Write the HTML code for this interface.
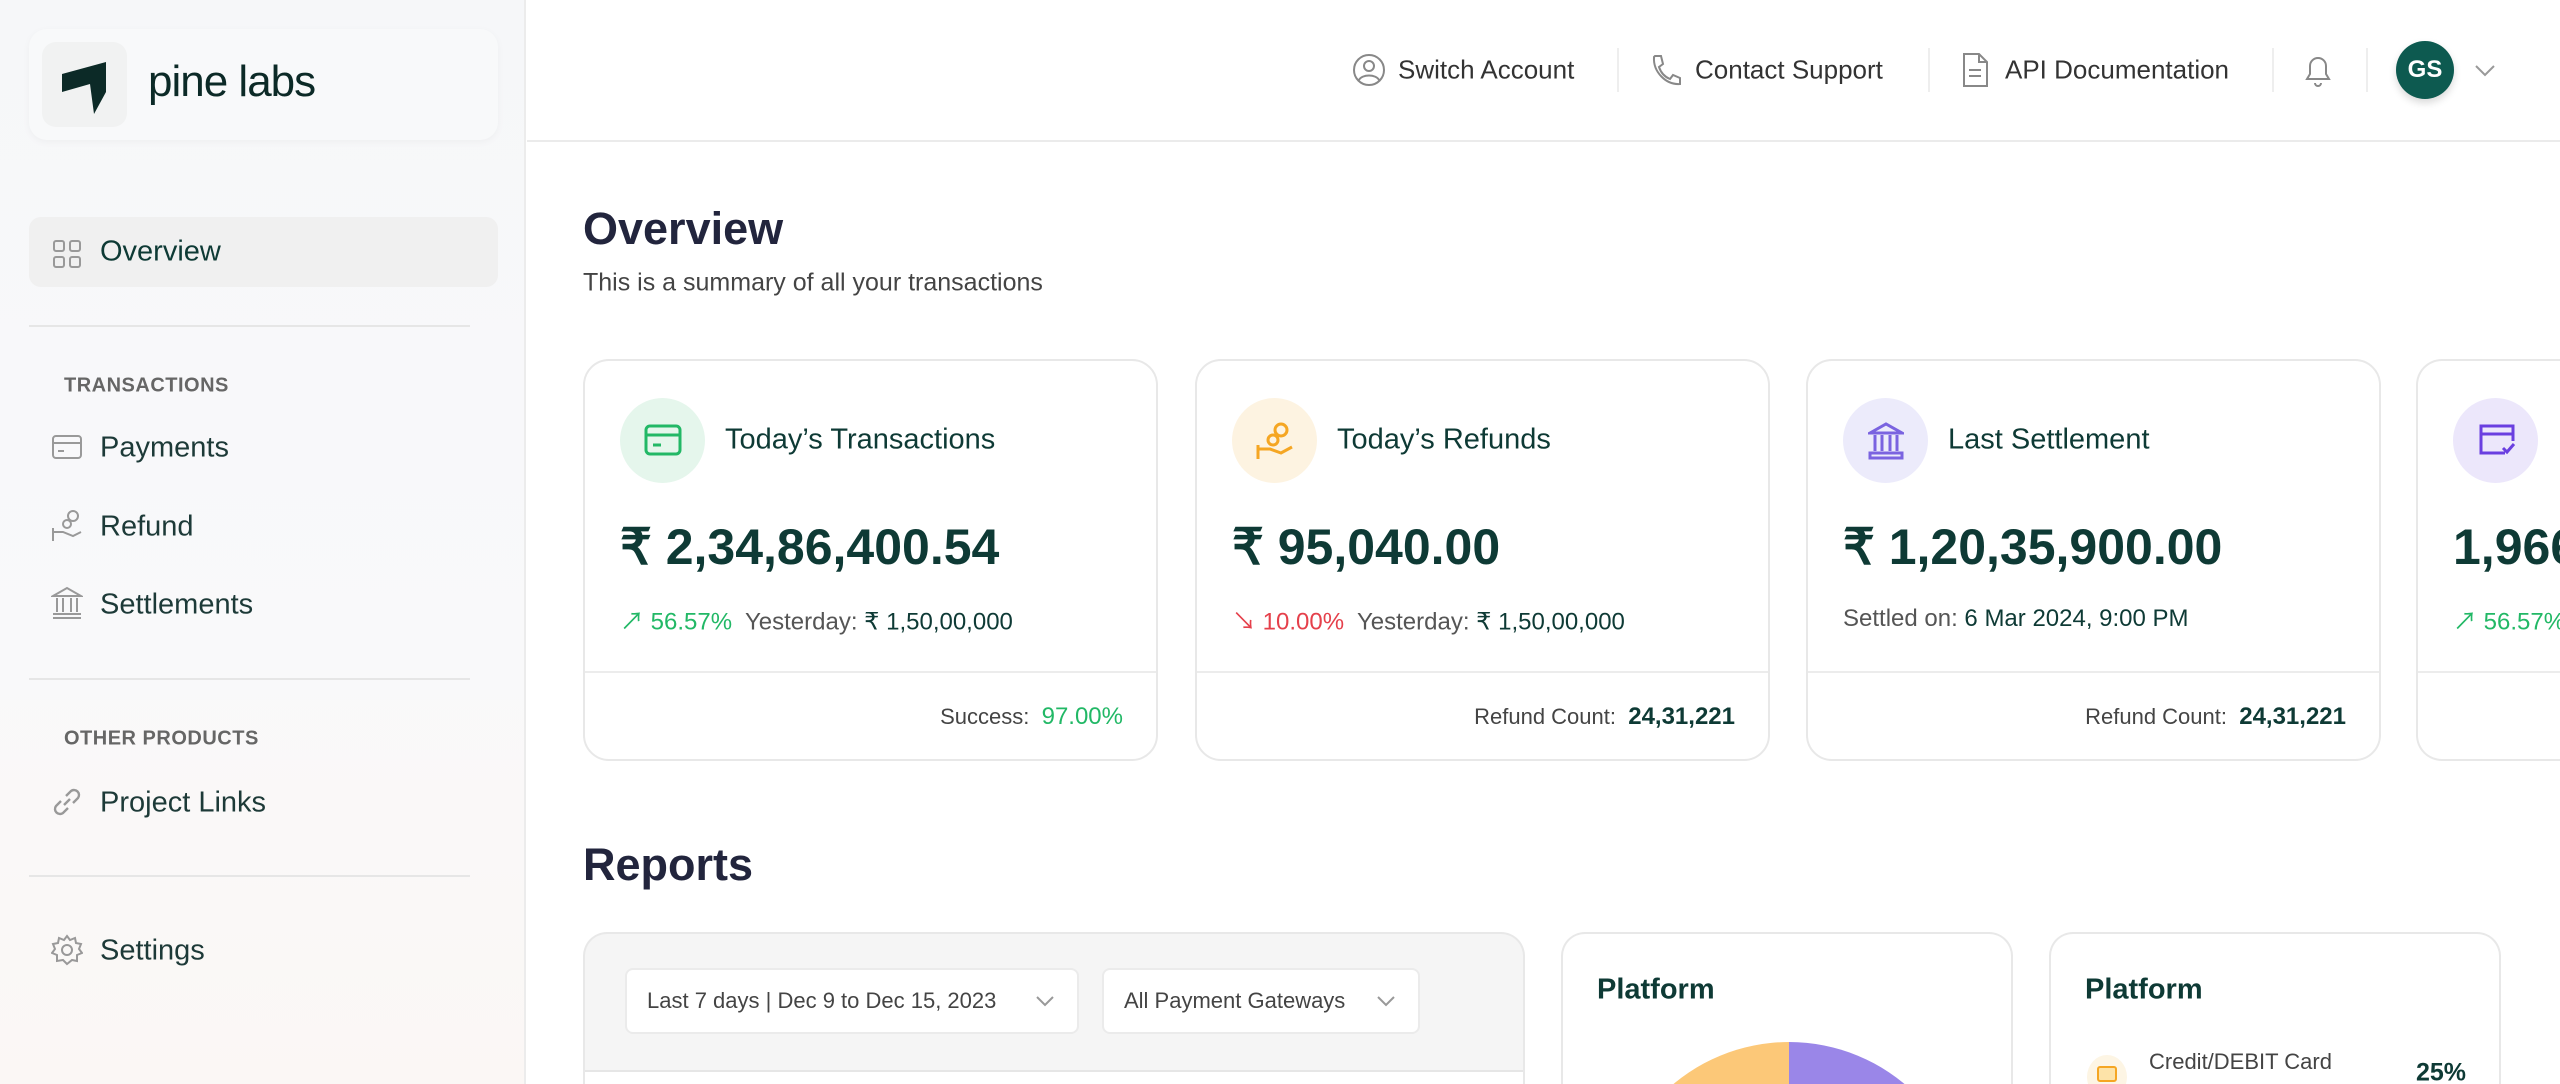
<!DOCTYPE html>
<html style="width:2560px;height:1084px;overflow:hidden"><head><meta charset="utf-8"><style>
*{margin:0;padding:0;box-sizing:border-box}
body{width:2560px;height:1084px;overflow:hidden;background:#fff;font-family:"Liberation Sans","Noto Sans CJK SC",sans-serif;position:relative;color:#0e3a35}
.a{position:absolute;white-space:nowrap}
.side{position:absolute;left:0;top:0;width:526px;height:1084px;background:linear-gradient(180deg,#f6f7f9 0%,#f9f9fa 60%,#fbf7f5 100%);border-right:2px solid #ececec}
.nav{font-size:29px;color:#1d3a38;transform:translateY(-50%)}
.sec{font-size:20px;color:#666;font-weight:bold;letter-spacing:0.5px;transform:translateY(-50%)}
.hr{position:absolute;left:29px;width:441px;height:2px;background:#e6e6e6}
.hd{font-size:26px;color:#333;transform:translateY(-50%)}
.vs{position:absolute;top:48px;width:2px;height:44px;background:#eee}
.card{position:absolute;top:359px;width:575px;height:402px;border:2px solid #e8e8e8;border-radius:26px;background:#fff;overflow:hidden}
.card *{white-space:nowrap}
.card .circ{position:absolute;left:35px;top:37px;width:85px;height:85px;border-radius:50%}
.card .t{position:absolute;left:140px;top:79px;font-size:29px;color:#0e3a35;transform:translateY(-50%)}
.card .amt{position:absolute;left:35px;top:186px;font-size:50px;font-weight:bold;color:#0e3a35;transform:translateY(-50%)}
.card .ch{position:absolute;left:35px;top:258px;font-size:24px;color:#555;transform:translateY(-50%)}
.card .div{position:absolute;left:0;right:0;top:310px;height:2px;background:#ececec}
.card .ft{position:absolute;right:33px;top:356px;font-size:22px;color:#444;transform:translateY(-50%)}
.g{color:#22b866}.r{color:#e5404b}.d{color:#0e3a35;font-weight:bold}
.pnl{position:absolute;top:932px;height:152px;border:2px solid #e8e8e8;border-bottom:none;border-radius:24px 24px 0 0;overflow:hidden}
</style></head><body>
<div class="side">
  <div class="a" style="left:29px;top:29px;width:469px;height:111px;background:#f8f9fa;border-radius:18px;box-shadow:0 2px 8px rgba(0,0,0,0.04)"></div>
  <div class="a" style="left:42px;top:42px;width:85px;height:85px;background:#f1f2f2;border-radius:14px"></div>
  <svg class="a" style="left:58px;top:62px" width="54" height="52" viewBox="0 0 54 52"><path d="M4 12 L48 0 L48 30 L36 52 L32 22 L4 30 Z" fill="#0c2a27"/></svg>
  <div class="a" style="left:148px;top:82px;transform:translateY(-50%);font-size:44px;color:#0c2a27;letter-spacing:-1px">pine labs</div>
  <div class="a" style="left:29px;top:217px;width:469px;height:70px;background:#f0f0f0;border-radius:12px"></div>
  <svg class="a" style="left:52px;top:239px" width="30" height="30" viewBox="0 0 30 30" fill="none" stroke="#999" stroke-width="2"><rect x="2" y="2" width="10" height="10" rx="2"/><rect x="18" y="2" width="10" height="10" rx="2"/><rect x="2" y="18" width="10" height="10" rx="2"/><rect x="18" y="18" width="10" height="10" rx="2"/></svg>
  <div class="a nav" style="left:100px;top:252px;color:#0e3a35">Overview</div>
  <div class="hr" style="top:325px"></div>
  <div class="a sec" style="left:64px;top:386px">TRANSACTIONS</div>
  <svg class="a" style="left:51px;top:433px" width="32" height="28" viewBox="0 0 32 28" fill="none" stroke="#999" stroke-width="2"><rect x="2" y="3" width="28" height="22" rx="3"/><path d="M2 10 H30 M7 18 H13"/></svg>
  <div class="a nav" style="left:100px;top:448px">Payments</div>
  <svg class="a" style="left:51px;top:508px" width="32" height="36" viewBox="0 0 32 36" fill="none" stroke="#999" stroke-width="2"><circle cx="22" cy="8" r="5"/><circle cx="16" cy="16" r="4"/><path d="M2 20 V33 M2 24 H12 L22 28 L30 24"/></svg>
  <div class="a nav" style="left:100px;top:527px">Refund</div>
  <svg class="a" style="left:51px;top:586px" width="32" height="34" viewBox="0 0 32 34" fill="none" stroke="#999" stroke-width="2"><path d="M2 10 L16 2 L30 10 Z M6 12 V26 M12 12 V26 M20 12 V26 M26 12 V26 M2 28 H30 M2 32 H30"/></svg>
  <div class="a nav" style="left:100px;top:605px">Settlements</div>
  <div class="hr" style="top:678px"></div>
  <div class="a sec" style="left:64px;top:739px">OTHER PRODUCTS</div>
  <svg class="a" style="left:51px;top:786px" width="32" height="32" viewBox="0 0 32 32" fill="none" stroke="#999" stroke-width="2.4"><path d="M13 19 L19 13 M10 15 L5 20 A5 5 0 0 0 12 27 L17 22 M22 17 L27 12 A5 5 0 0 0 20 5 L15 10"/></svg>
  <div class="a nav" style="left:100px;top:803px">Project Links</div>
  <div class="hr" style="top:875px"></div>
  <svg class="a" style="left:51px;top:934px" width="32" height="32" viewBox="0 0 32 32" fill="none" stroke="#999" stroke-width="2"><circle cx="16" cy="16" r="5"/><path d="M16 2 L19 6 L24 4 L25 9 L30 10 L28 15 L31 19 L26 21 L26 27 L21 26 L16 30 L12 26 L6 27 L6 21 L1 19 L4 15 L2 10 L7 9 L8 4 L13 6 Z"/></svg>
  <div class="a nav" style="left:100px;top:951px">Settings</div>
</div>

<div class="a" style="left:527px;top:140px;width:2033px;height:2px;background:#ebebeb"></div>
<svg class="a" style="left:1352px;top:53px" width="34" height="34" viewBox="0 0 34 34" fill="none" stroke="#888" stroke-width="2"><circle cx="17" cy="17" r="15"/><circle cx="17" cy="13" r="5"/><path d="M7 27 C10 21 24 21 27 27"/></svg>
<div class="a hd" style="left:1398px;top:70px">Switch Account</div>
<div class="vs" style="left:1617px"></div>
<svg class="a" style="left:1650px;top:53px" width="32" height="34" viewBox="0 0 32 34" fill="none" stroke="#888" stroke-width="2"><path d="M5 3 L11 3 L13 11 L9 14 C11 20 15 24 20 26 L23 22 L30 25 L30 31 C16 32 3 19 4 4 Z"/></svg>
<div class="a hd" style="left:1695px;top:70px">Contact Support</div>
<div class="vs" style="left:1928px"></div>
<svg class="a" style="left:1961px;top:52px" width="28" height="36" viewBox="0 0 28 36" fill="none" stroke="#888" stroke-width="2"><path d="M3 2 H18 L26 10 V34 H3 Z M18 2 V10 H26 M8 18 H20 M8 24 H20"/></svg>
<div class="a hd" style="left:2005px;top:70px">API Documentation</div>
<div class="vs" style="left:2272px"></div>
<svg class="a" style="left:2303px;top:52px" width="30" height="36" viewBox="0 0 30 36" fill="none" stroke="#888" stroke-width="2"><path d="M4 27 H26 L23 22 V14 A8 8 0 0 0 7 14 V22 Z M12 31 A3 3 0 0 0 18 31"/></svg>
<div class="vs" style="left:2366px"></div>
<div class="a" style="left:2396px;top:41px;width:58px;height:58px;border-radius:50%;background:#0d5a50;color:#fff;font-weight:bold;font-size:24px;text-align:center;line-height:58px;box-shadow:0 4px 8px rgba(0,0,0,0.15)">GS</div>
<svg class="a" style="left:2474px;top:64px" width="22" height="14" viewBox="0 0 22 14" fill="none" stroke="#999" stroke-width="2"><path d="M2 2 L11 11 L20 2"/></svg>

<div class="a" style="left:583px;top:229px;transform:translateY(-50%);font-size:45px;font-weight:bold;color:#22253d">Overview</div>
<div class="a" style="left:583px;top:283px;transform:translateY(-50%);font-size:25px;color:#444">This is a summary of all your transactions</div>

<div class="card" style="left:583px">
  <div class="circ" style="background:#e5f6ec"></div>
  <svg class="a" style="left:59px;top:63px" width="38" height="32" viewBox="0 0 38 32" fill="none" stroke="#22b866" stroke-width="3"><rect x="2" y="2" width="34" height="28" rx="4"/><path d="M2 11 H36 M9 21 H17"/></svg>
  <div class="t">Today’s Transactions</div>
  <div class="amt">₹ 2,34,86,400.54</div>
  <div class="ch"><span class="g">↗ 56.57%</span>&nbsp; Yesterday: <span style="color:#0e3a35">₹ 1,50,00,000</span></div>
  <div class="div"></div>
  <div class="ft">Success:&nbsp; <span class="g" style="font-size:24px">97.00%</span></div>
</div>
<div class="card" style="left:1195px">
  <div class="circ" style="background:#fdf3e1"></div>
  <svg class="a" style="left:58px;top:60px" width="40" height="40" viewBox="0 0 40 40" fill="none" stroke="#f5a623" stroke-width="3"><circle cx="26" cy="9" r="6"/><circle cx="18" cy="19" r="5"/><path d="M3 24 V38 M3 28 H15 L26 32 L37 26"/></svg>
  <div class="t">Today’s Refunds</div>
  <div class="amt">₹ 95,040.00</div>
  <div class="ch"><span class="r">↘ 10.00%</span>&nbsp; Yesterday: <span style="color:#0e3a35">₹ 1,50,00,000</span></div>
  <div class="div"></div>
  <div class="ft">Refund Count:&nbsp; <span class="d" style="font-size:24px">24,31,221</span></div>
</div>
<div class="card" style="left:1806px">
  <div class="circ" style="background:#ecebfb"></div>
  <svg class="a" style="left:60px;top:60px" width="36" height="40" viewBox="0 0 36 40" fill="none" stroke="#7a63e0" stroke-width="3"><path d="M2 12 L18 3 L34 12 Z M7 14 V30 M14 14 V30 M22 14 V30 M29 14 V30 M2 32 H34 V37 H2 Z"/></svg>
  <div class="t">Last Settlement</div>
  <div class="amt">₹ 1,20,35,900.00</div>
  <div class="ch">Settled on: <span style="color:#0e3a35">6 Mar 2024, 9:00 PM</span></div>
  <div class="div"></div>
  <div class="ft">Refund Count:&nbsp; <span class="d" style="font-size:24px">24,31,221</span></div>
</div>
<div class="card" style="left:2416px;width:144px;border-right:none;border-radius:26px 0 0 26px">
  <div class="circ" style="background:#ece7fb"></div>
  <svg class="a" style="left:59px;top:62px" width="40" height="34" viewBox="0 0 40 34" fill="none" stroke="#6a3fe0" stroke-width="3"><path d="M28 30 H4 V3 H36 V18 M4 11 H36 M26 25 L30 29 L37 21"/></svg>
  <div class="amt">1,966,500</div>
  <div class="ch"><span class="g">↗ 56.57%</span></div>
  <div class="div"></div>
</div>

<div class="a" style="left:583px;top:865px;transform:translateY(-50%);font-size:45px;font-weight:bold;color:#22253d">Reports</div>
<div class="pnl" style="left:583px;width:942px;background:#f5f5f5">
  <div class="a" style="left:0;top:136px;width:940px;height:20px;background:#fff;border-top:2px solid #e6e6e6"></div>
  <div class="a" style="left:40px;top:34px;width:454px;height:66px;background:#fff;border:2px solid #ebebeb;border-radius:8px"></div>
  <div class="a" style="left:62px;top:67px;transform:translateY(-50%);font-size:22px;color:#444">Last 7 days | Dec 9 to Dec 15, 2023</div>
  <svg class="a" style="left:450px;top:61px" width="20" height="12" viewBox="0 0 20 12" fill="none" stroke="#999" stroke-width="2"><path d="M2 2 L10 10 L18 2"/></svg>
  <div class="a" style="left:517px;top:34px;width:318px;height:66px;background:#fff;border:2px solid #ebebeb;border-radius:8px"></div>
  <div class="a" style="left:539px;top:67px;transform:translateY(-50%);font-size:22px;color:#444">All Payment Gateways</div>
  <svg class="a" style="left:791px;top:61px" width="20" height="12" viewBox="0 0 20 12" fill="none" stroke="#999" stroke-width="2"><path d="M2 2 L10 10 L18 2"/></svg>
</div>

<div class="pnl" style="left:1561px;width:452px;background:#fff">
  <svg class="a" style="left:0;top:0" width="452" height="152"><path d="M226 108 A180 180 0 0 0 46 288 L226 288 Z" fill="#fcc878"/><path d="M226 108 A180 180 0 0 1 406 288 L226 288 Z" fill="#9a86e8"/></svg>
  <div class="a" style="left:34px;top:56px;transform:translateY(-50%);font-size:29px;font-weight:bold;color:#0e3a35">Platform</div>
</div>

<div class="pnl" style="left:2049px;width:452px;background:#fff">
  <div class="a" style="left:34px;top:56px;transform:translateY(-50%);font-size:29px;font-weight:bold;color:#0e3a35">Platform</div>
  <div class="a" style="left:36px;top:121px;width:40px;height:44px;border-radius:50%;background:#fdf5e4"></div>
  <div class="a" style="left:46px;top:132px;width:20px;height:16px;border:2px solid #f5a623;border-radius:3px;background:#fde3a8"></div>
  <div class="a" style="left:98px;top:128px;transform:translateY(-50%);font-size:22px;color:#444">Credit/DEBIT Card</div>
  <div class="a" style="left:365px;top:139px;transform:translateY(-50%);font-size:25px;font-weight:bold;color:#0e3a35">25%</div>
</div>
</body></html>
